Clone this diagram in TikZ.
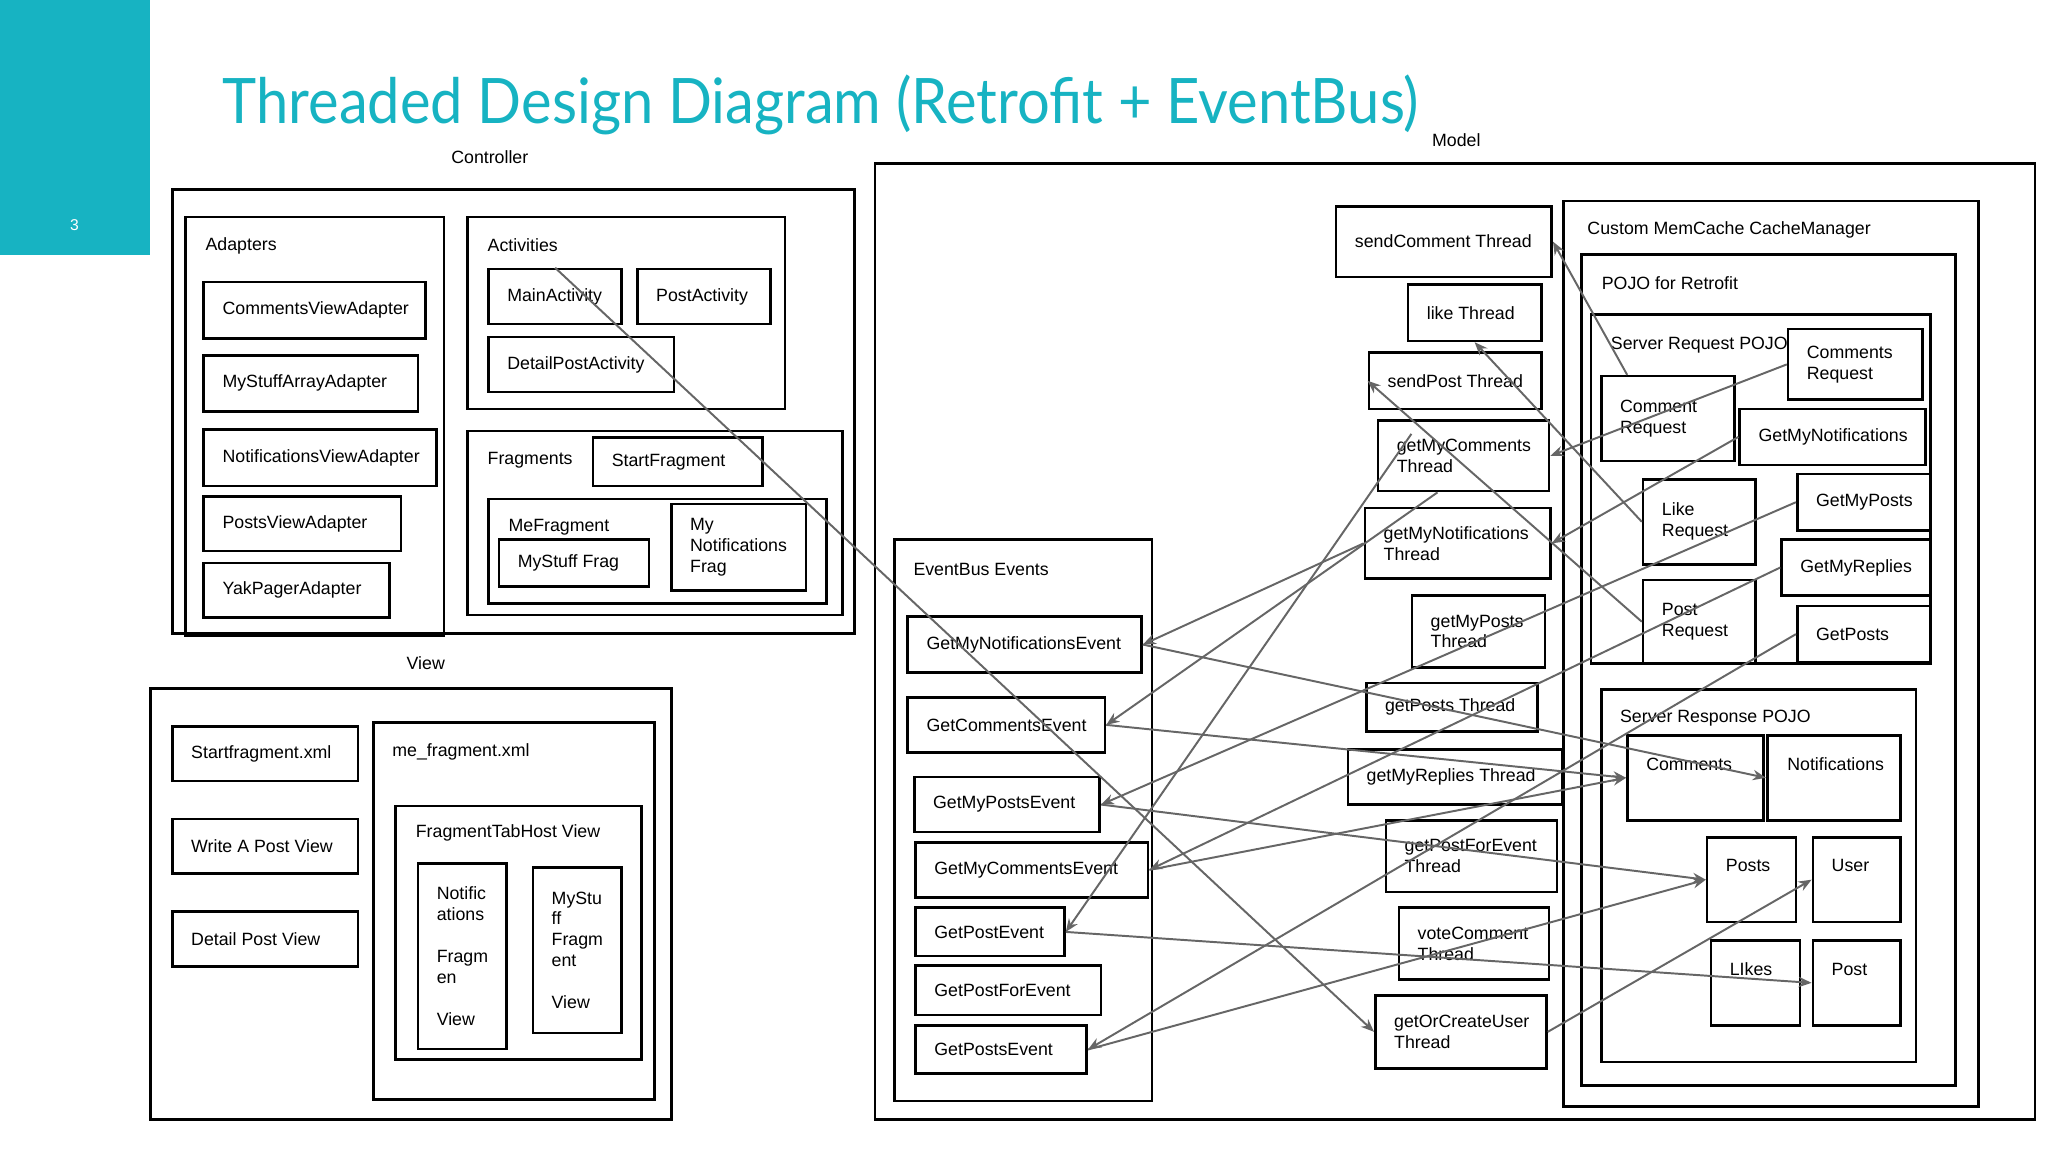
\documentclass[tikz,border=0pt]{standalone}
\usepackage{fontspec}
\setmainfont{Liberation Sans}
\newfontfamily\titlefont{Lato}
\usetikzlibrary{arrows.meta,calc}
\definecolor{teal1}{HTML}{17B3C2}
\definecolor{arr}{HTML}{666666}
\newcommand\bx[6]{%
\pgfmathsetmacro\bw{(#4-#2)*0.5}\pgfmathsetmacro\bh{(#5-#3)*0.5}%
\node[bx,minimum width=\bw pt,minimum height=\bh pt] (#1) at ({(#2+#4)/2},{(#3+#5)/2}) {};
\node[txt] (#1-t) at ({#2+14},{(#3+#5)/2}) {#6};}
\begin{document}
\begin{tikzpicture}[x=0.5pt,y=-0.5pt,
 bx/.style={draw=black,line width=1pt,inner sep=0pt},
 txt/.style={anchor=west,inner sep=0pt,align=left,font=\fontsize{6.8}{8}\selectfont},
 lbl/.style={anchor=west,inner sep=0pt,font=\fontsize{6.8}{8}\selectfont},
 ar/.style={draw=arr,line width=0.75pt,-{Stealth[length=5pt,width=4pt]}}]
\useasboundingbox (0,0) rectangle (1568,882);
\fill[teal1] (0,0) rectangle (115,195);
\node[text=white,font=\fontsize{6}{7}\selectfont] (pg) at (57,172) {3};
\node[anchor=south west,inner sep=0pt,text=teal1] (title) at (170,104) {\resizebox*{458pt}{23pt}{\titlefont Threaded Design Diagram (Retrofit + EventBus)}};
\node[lbl,anchor=center] (lc) at (375,120) {Controller};
\node[lbl,anchor=center] (lm) at (1115,107) {Model};
\node[lbl,anchor=center] (lv) at (326,508) {View};
% Controller
\bx{ctrl}{132}{145}{654}{485}{}
\bx{adp}{142}{166}{340}{487}{}
\node[lbl] (adpl) at (157,188) {Adapters};
\bx{a1}{156}{216}{326}{259}{CommentsViewAdapter}
\bx{a2}{156}{272}{320}{315}{MyStuffArrayAdapter}
\bx{a3}{156}{329}{334}{372}{NotificationsViewAdapter}
\bx{a4}{156}{380}{307}{422}{PostsViewAdapter}
\bx{a5}{156}{431}{298}{473}{YakPagerAdapter}
\bx{act}{358}{166}{601}{313}{}
\node[lbl] (actl) at (373,188) {Activities};
\bx{ma}{374}{206}{476}{248}{MainActivity}
\bx{pa}{488}{206}{590}{248}{PostActivity}
\bx{dpa}{374}{258}{516}{300}{DetailPostActivity}
\bx{frg}{358}{330}{645}{471}{}
\node[lbl] (frgl) at (373,352) {Fragments};
\bx{sf}{454}{335}{584}{372}{StartFragment}
\bx{mef}{374}{382}{633}{462}{}
\node[lbl] (mefl) at (389,404) {MeFragment};
\bx{msf}{382}{413}{497}{449}{MyStuff Frag}
\bx{mnf}{514}{386}{617}{452}{My\\Notifications\\Frag}
% View
\bx{view}{115}{527}{514}{857}{}
\bx{v1}{132}{556}{274}{598}{Startfragment.xml}
\bx{v2}{132}{627}{274}{669}{Write A Post View}
\bx{v3}{132}{698}{274}{740}{Detail Post View}
\bx{mfx}{286}{553}{501}{842}{}
\node[lbl] (mfxl) at (300,576) {me\_fragment.xml};
\bx{fth}{303}{617}{491}{811}{}
\node[lbl] (fthl) at (318,638) {FragmentTabHost View};
\bx{nfv}{320}{661}{388}{803}{Notific\\ations\\[8pt]Fragm\\en\\[8pt]View}
\bx{msv}{408}{664}{476}{791}{MyStu\\ff\\Fragm\\ent\\[8pt]View}
% Model
\bx{model}{670}{125}{1558}{857}{}
\bx{sct}{1023}{158}{1188}{212}{sendComment Thread}
\bx{lt}{1078}{218}{1180}{261}{like Thread}
\bx{spt}{1048}{270}{1180}{313}{sendPost Thread}
\bx{gmct}{1055}{322}{1186}{376}{getMyComments\\Thread}
\bx{gmnt}{1045}{389}{1187}{443}{getMyNotifications\\Thread}
\bx{gmpt}{1081}{456}{1183}{511}{getMyPosts\\Thread}
\bx{gpt}{1046}{523}{1177}{560}{getPosts Thread}
\bx{gmrt}{1032}{574}{1196}{616}{getMyReplies Thread}
\bx{gpft}{1061}{628}{1192}{683}{getPostForEvent\\Thread}
\bx{vct}{1071}{695}{1186}{750}{voteComment\\Thread}
\bx{goc}{1053}{762}{1184}{818}{getOrCreateUser\\Thread}
\bx{ebe}{685}{413}{882}{843}{}
\node[lbl] (ebel) at (699,436) {EventBus Events};
\bx{e1}{695}{472}{874}{515}{GetMyNotificationsEvent}
\bx{e2}{695}{534}{846}{576}{GetCommentsEvent}
\bx{e3}{700}{595}{842}{637}{GetMyPostsEvent}
\bx{e4}{701}{645}{879}{687}{GetMyCommentsEvent}
\bx{e5}{701}{695}{815}{732}{GetPostEvent}
\bx{e6}{701}{739}{843}{777}{GetPostForEvent}
\bx{e7}{701}{785}{832}{822}{GetPostsEvent}
\bx{cmc}{1197}{154}{1515}{847}{}
\node[lbl] (cmcl) at (1215,176) {Custom MemCache CacheManager};
\bx{pojo}{1211}{195}{1497}{831}{}
\node[lbl] (pojol) at (1226,217) {POJO for Retrofit};
\bx{srq}{1218}{241}{1478}{508}{}
\node[lbl] (srql) at (1233,264) {Server Request POJO};
\bx{crq}{1369}{252}{1472}{306}{Comments\\Request}
\bx{cr}{1226}{288}{1328}{353}{Comment\\Request}
\bx{gmn}{1332}{313}{1474}{356}{GetMyNotifications}
\bx{lr}{1258}{367}{1344}{432}{Like\\Request}
\bx{gmp}{1376}{363}{1478}{406}{GetMyPosts}
\bx{gmr}{1364}{413}{1478}{456}{GetMyReplies}
\bx{pr}{1258}{444}{1344}{508}{Post\\Request}
\bx{gp}{1376}{464}{1478}{507}{GetPosts}
\bx{srs}{1226}{528}{1467}{813}{}
\node[lbl] (srsl) at (1240,550) {Server Response POJO};
\bx{comm}{1246}{563}{1350}{628}{}
\node[lbl] (comml) at (1260,585) {Comments};
\bx{notif}{1353}{563}{1455}{628}{}
\node[lbl] (notifl) at (1368,585) {Notifications};
\bx{posts}{1307}{641}{1375}{706}{}
\node[lbl] (postsl) at (1321,663) {Posts};
\bx{user}{1388}{641}{1455}{706}{}
\node[lbl] (userl) at (1402,663) {User};
\bx{likes}{1310}{720}{1378}{785}{}
\node[lbl] (likesl) at (1324,742) {LIkes};
\bx{post}{1388}{720}{1455}{785}{}
\node[lbl] (postl) at (1402,742) {Post};
% arrows
\draw[ar] ($(cr.north west)!.2!(cr.north east)$) -- (sct.east);
\draw[ar] (lr.west) -- (lt.south);
\draw[ar] (pr.west) -- (spt.west);
\draw[ar] (crq.west) -- (gmct.east);
\draw[ar] (gmn.west) -- (gmnt.east);
\draw[ar] (gmnt.west) -- (e1.east);
\draw[ar] ($(gmct.south west)!.35!(gmct.south east)$) -- (e2.east);
\draw[ar] (gmp.west) -- (e3.east);
\draw[ar] (gmr.west) -- (e4.east);
\draw[ar] (gp.west) -- (e7.east);
\draw[ar] (e1.east) -- (notif.west);
\draw[ar] (e2.east) -- (comm.west);
\draw[ar] (e4.east) -- (comm.west);
\draw[ar] (e3.east) -- (posts.west);
\draw[ar] (e7.east) -- (posts.west);
\draw[ar] (e5.east) -- (post.west);
\draw[ar] (goc.east) -- (user.west);
\draw[ar] (ma.north) -- (goc.west);
\draw[ar] ($(gmct.north west)!.2!(gmct.south east)$) -- (e5.east);
\end{tikzpicture}
\end{document}
